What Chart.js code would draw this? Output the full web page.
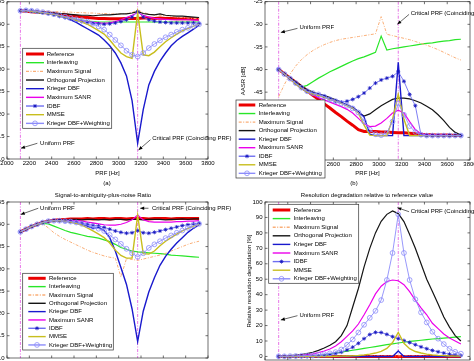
<!DOCTYPE html>
<html>
<head>
<meta charset="utf-8">
<script src="https://cdn.jsdelivr.net/npm/chart.js@4"></script>
<style>
  html, body { margin: 0; padding: 0; background: #fff; }
  body { width: 474px; height: 361px; position: relative; overflow: hidden; }
  canvas { position: absolute; }
</style>
</head>
<body>
<canvas id="panelA" width="275" height="210" style="left:-40px;top:-20px"></canvas>
<canvas id="panelB" width="262" height="210" style="left:222px;top:-20px"></canvas>
<canvas id="panelC" width="275" height="200" style="left:-40px;top:180px"></canvas>
<canvas id="panelD" width="262" height="200" style="left:222px;top:180px"></canvas>
<script>
// PRF grid (Hz) shared by all four panels
var prf = [2120, 2170, 2220, 2270, 2320, 2370, 2420, 2470, 2520, 2570, 2620, 2670, 2720, 2770, 2820, 2870,
  2920, 2970, 3020, 3070, 3120, 3170, 3220, 3270, 3320, 3370, 3420, 3470, 3520, 3570, 3620, 3670, 3720];
var prfTicks = [2000, 2200, 2400, 2600, 2800, 3000, 3200, 3400, 3600, 3800];
var prfMarks = [2120, 3170]; // uniform PRF, critical PRF
var seriesNames = ['Reference', 'Interleaving', 'Maximum Signal', 'Orthogonal Projection', 'Krieger DBF',
  'Maximum SANR', 'IDBF', 'MMSE', 'Krieger DBF+Weighting'];

// (a) top left, dB
var aTicks = [10, 15, 20, 25, 30, 35, 40, 45];
var aRef = [43.0, 42.9, 42.8, 42.7, 42.6, 42.5, 42.4, 42.2, 42.1, 41.9, 41.8, 41.6, 41.5, 41.4, 41.3, 41.3, 41.2, 41.2, 41.2, 41.3, 41.3, 41.3, 41.4, 41.4, 41.3, 41.4, 41.3, 41.3, 41.2, 41.2, 41.2, 41.2, 41.1];
var aInter = [43.0, 42.9, 42.8, 42.6, 42.5, 42.3, 42.1, 41.9, 41.6, 41.3, 41.1, 40.9, 40.7, 40.6, 40.5, 40.5, 40.5, 40.5, 40.5, 40.5, 40.5, 40.5, 40.5, 40.5, 40.5, 40.5, 40.5, 40.5, 40.5, 40.5, 40.5, 40.5, 40.5];
var aMaxSig = [43.0, 43.0, 43.0, 42.9, 42.9, 42.9, 42.8, 42.8, 42.7, 42.7, 42.6, 42.6, 42.5, 42.5, 42.4, 42.4, 42.3, 42.3, 42.3, 42.4, 42.6, 43.2, 42.6, 42.3, 42.1, 42.0, 41.9, 41.8, 41.6, 41.5, 41.4, 41.3, 41.2];
var aOrth = [43.0, 43.0, 42.9, 42.8, 42.7, 42.6, 42.5, 42.4, 42.3, 42.2, 42.1, 42.0, 42.0, 41.9, 42.0, 42.1, 42.1, 42.2, 42.3, 42.3, 42.5, 42.8, 42.4, 42.2, 42.1, 42.3, 42.0, 41.9, 41.8, 41.8, 41.7, 41.6, 41.5];
var aKrieger = [43.0, 43.0, 42.9, 42.8, 42.6, 42.4, 42.2, 41.9, 41.5, 41.0, 40.4, 39.7, 39.0, 38.3, 37.6, 36.5, 35.2, 33.6, 31.4, 28.5, 23.0, 13.5, 21.0, 26.5, 29.5, 31.8, 33.6, 35.2, 36.4, 37.3, 38.1, 38.9, 39.8];
var aSanr = [43.0, 43.0, 42.9, 42.8, 42.6, 42.4, 42.2, 41.9, 41.6, 41.3, 41.0, 40.8, 40.6, 40.4, 40.3, 40.2, 40.3, 40.6, 41.0, 41.5, 42.0, 42.6, 42.0, 41.6, 41.3, 41.2, 41.1, 41.0, 41.0, 41.0, 41.0, 40.9, 40.9];
var aIdbf = [43.0, 43.1, 43.0, 42.8, 42.6, 42.4, 42.1, 41.8, 41.5, 41.2, 40.9, 40.6, 40.4, 40.2, 40.1, 40.0, 40.1, 40.3, 40.6, 41.0, 41.6, 42.8, 41.6, 41.0, 40.7, 40.5, 40.4, 40.3, 40.3, 40.3, 40.3, 40.3, 40.2];
var aMmse = [43.0, 43.0, 42.9, 42.8, 42.6, 42.4, 42.2, 41.9, 41.6, 41.3, 40.9, 40.5, 40.0, 39.3, 38.6, 37.8, 36.5, 35.0, 33.6, 32.8, 32.4, 42.6, 33.2, 33.0, 33.8, 35.0, 36.1, 37.0, 37.8, 38.5, 39.1, 39.6, 40.0];
var aKw = [43.0, 43.1, 43.0, 42.9, 42.7, 42.5, 42.3, 42.0, 41.7, 41.4, 41.1, 40.9, 40.6, 40.1, 39.5, 38.8, 37.7, 36.5, 35.3, 34.1, 33.2, 32.8, 33.6, 34.7, 35.6, 36.4, 37.1, 37.7, 38.3, 38.8, 39.2, 39.6, 40.0];

// (b) top right, AASR dB
var bTicks = [-60, -55, -50, -45, -40, -35, -30, -25];
var bRef = [-40.0, -40.9, -41.9, -42.8, -43.8, -44.7, -45.7, -46.6, -47.6, -48.5, -49.5, -50.4, -51.4, -52.3, -53.3, -53.7, -53.7, -53.7, -53.8, -53.8, -53.9, -54.0, -54.0, -54.1, -54.2, -54.3, -54.4, -54.4, -54.5, -54.5, -54.5, -54.6, -54.6];
var bInter = [-40.0, -41.0, -42.0, -43.0, -43.9, -43.5, -42.7, -41.9, -41.2, -40.5, -39.9, -39.3, -38.7, -38.1, -37.6, -37.2, -36.7, -36.2, -32.6, -35.7, -35.4, -35.2, -35.0, -34.8, -34.6, -34.4, -34.2, -34.1, -33.9, -33.7, -33.6, -33.4, -33.3];
var bMaxSig = [-46.0, -43.3, -41.0, -39.2, -37.8, -36.7, -35.8, -35.1, -34.5, -34.0, -33.6, -33.3, -33.1, -32.9, -32.7, -32.5, -32.3, -32.1, -28.3, -32.2, -32.5, -32.8, -33.1, -33.4, -33.8, -34.2, -34.6, -35.1, -35.6, -36.2, -36.8, -37.4, -37.9];
var bOrth = [-40.0, -40.9, -41.8, -42.7, -43.6, -44.4, -45.0, -45.4, -45.7, -46.2, -46.7, -47.3, -47.9, -48.6, -49.5, -50.3, -49.8, -48.9, -48.0, -47.3, -46.6, -46.3, -46.3, -46.5, -46.9, -47.4, -48.1, -48.9, -50.0, -51.3, -52.8, -53.9, -54.5];
var bKrieger = [-40.0, -41.0, -42.1, -43.2, -44.2, -45.0, -45.3, -45.5, -45.9, -46.5, -46.8, -47.2, -47.8, -48.3, -49.3, -50.5, -54.3, -54.6, -54.6, -54.6, -54.6, -38.4, -54.6, -54.6, -54.6, -54.6, -54.6, -54.6, -54.6, -54.6, -54.6, -54.6, -54.6];
var bSanr = [-40.0, -41.0, -42.1, -43.1, -44.1, -45.0, -45.6, -46.2, -46.7, -47.2, -47.7, -48.2, -48.8, -49.6, -50.8, -52.0, -52.6, -52.5, -51.8, -50.8, -49.6, -49.0, -49.6, -51.5, -53.3, -54.2, -54.4, -54.5, -54.5, -54.5, -54.6, -54.6, -54.6];
var bIdbf = [-40.0, -41.0, -42.0, -43.0, -44.0, -44.8, -45.3, -45.6, -46.0, -46.5, -47.0, -47.2, -47.0, -46.6, -46.0, -45.2, -44.1, -43.0, -42.3, -41.9, -41.5, -40.5, -42.6, -45.5, -48.0, -54.5, -54.6, -54.6, -54.6, -54.6, -54.6, -54.6, -54.6];
var bMmse = [-40.0, -41.0, -42.1, -43.2, -44.2, -45.0, -45.4, -45.7, -46.1, -46.6, -47.0, -47.5, -48.0, -48.5, -49.6, -52.3, -54.5, -54.6, -54.6, -54.6, -51.0, -45.5, -51.0, -54.6, -54.6, -54.6, -54.6, -54.6, -54.6, -54.6, -54.6, -54.6, -54.6];
var bKw = [-40.0, -41.0, -42.0, -43.0, -44.0, -44.8, -45.2, -45.5, -46.0, -46.6, -47.0, -47.5, -48.0, -48.6, -49.5, -51.5, -53.3, -54.3, -54.5, -54.0, -51.5, -47.5, -50.0, -52.5, -53.8, -54.4, -54.6, -54.6, -54.6, -54.6, -54.6, -54.6, -54.6];

// (c) bottom left, signal-to-ambiguity-plus-noise ratio dB
var cTicks = [10, 15, 20, 25, 30, 35, 40, 45];
var cRef = [38.3, 38.9, 39.5, 40.0, 40.4, 40.7, 40.9, 41.0, 41.1, 41.2, 41.2, 41.2, 41.3, 41.2, 41.3, 41.3, 41.2, 41.3, 41.3, 41.2, 41.3, 41.3, 41.3, 41.2, 41.3, 41.3, 41.3, 41.2, 41.3, 41.3, 41.3, 41.3, 41.3];
var cInter = [38.3, 38.9, 39.5, 39.9, 40.2, 40.1, 39.6, 39.1, 38.6, 38.2, 37.9, 37.6, 37.3, 37.1, 36.9, 36.5, 36.1, 35.5, 34.8, 34.4, 34.0, 33.8, 33.7, 33.6, 33.5, 33.4, 33.3, 33.1, 33.0, 32.9, 32.8, 32.7, 32.6];
var cMaxSig = [38.3, 38.9, 39.5, 39.9, 40.1, 39.2, 38.1, 37.3, 36.6, 36.0, 35.4, 34.8, 34.2, 33.7, 33.3, 32.9, 32.6, 32.4, 28.2, 32.3, 32.1, 31.9, 32.2, 32.5, 32.8, 33.1, 33.5, 34.0, 34.5, 35.0, 35.5, 35.9, 36.2];
var cOrth = [38.3, 38.9, 39.5, 40.0, 40.4, 40.7, 40.9, 41.0, 41.0, 41.1, 41.1, 41.0, 41.1, 41.1, 41.0, 41.1, 41.0, 41.1, 41.1, 41.0, 41.1, 41.1, 41.0, 41.1, 41.1, 41.1, 41.0, 41.1, 41.1, 41.2, 41.1, 41.2, 41.2];
var cKrieger = [38.3, 38.9, 39.5, 40.0, 40.4, 40.7, 40.8, 40.8, 40.7, 40.5, 40.3, 40.0, 39.6, 39.1, 39.3, 38.6, 37.0, 34.0, 30.3, 26.5, 21.0, 13.7, 20.5, 24.8, 28.0, 30.8, 32.8, 34.4, 35.8, 37.0, 38.2, 39.1, 39.9];
var cSanr = [38.3, 38.9, 39.5, 40.0, 40.4, 40.7, 40.8, 40.9, 40.9, 40.9, 40.8, 40.7, 40.5, 40.3, 40.1, 39.9, 39.8, 39.8, 40.0, 40.4, 41.0, 42.1, 41.0, 40.6, 40.5, 40.5, 40.5, 40.5, 40.6, 40.6, 40.7, 40.7, 40.8];
var cIdbf = [38.3, 38.9, 39.5, 40.0, 40.4, 40.7, 40.8, 40.8, 40.7, 40.6, 40.4, 40.2, 40.0, 39.8, 39.6, 39.3, 38.9, 38.5, 38.2, 38.0, 38.1, 38.6, 38.1, 38.0, 38.2, 38.5, 38.8, 39.1, 39.4, 39.7, 39.9, 40.1, 40.2];
var cMmse = [38.3, 38.9, 39.5, 40.0, 40.4, 40.7, 40.8, 40.8, 40.7, 40.5, 40.2, 39.8, 39.2, 38.5, 37.8, 37.0, 35.8, 34.2, 33.0, 32.4, 32.4, 42.0, 33.4, 33.3, 34.0, 35.2, 36.2, 37.0, 37.8, 38.5, 39.1, 39.6, 40.0];
var cKw = [38.3, 38.9, 39.5, 40.0, 40.4, 40.7, 40.8, 40.8, 40.7, 40.6, 40.4, 40.1, 39.8, 39.4, 39.0, 38.5, 37.6, 36.6, 35.6, 34.5, 33.5, 32.7, 33.5, 34.7, 35.5, 36.2, 36.9, 37.5, 38.1, 38.6, 39.2, 39.7, 40.1];

// (d) bottom right, relative resolution degradation %
var dTicks = [0, 10, 20, 30, 40, 50, 60, 70, 80, 90, 100];
var dRef = [0, 0, 0, 0, 0, 0, 0, 0, 0, 0, 0, 0, 0, 0, 0, 0, 0, 0, 0, 0, 0, 0, 0, 0, 0, 0, 0, 0, 0, 0, 0, 0, 0];
var dInter = [0, 0, 0, 0, 0, 0.1, 0.2, 0.5, 1.0, 1.6, 2.2, 2.8, 3.4, 4.0, 4.6, 5.2, 5.8, 6.4, 7.0, 7.6, 8.2, 8.7, 9.2, 9.7, 10.1, 10.5, 10.9, 11.3, 11.6, 11.9, 12.2, 12.5, 12.8];
var dMaxSig = [0.2, 0.2, 0.2, 0.2, 0.2, 0.2, 0.2, 0.2, 0.2, 0.2, 0.2, 0.2, 0.2, 0.2, 0.2, 0.2, 0.3, 0.3, 0.3, 0.3, 0.3, 0.4, 0.3, 0.3, 0.3, 0.3, 0.2, 0.2, 0.2, 0.2, 0.2, 0.2, 0.2];
var dOrth = [0.2, 0.3, 0.5, 0.8, 1.2, 1.8, 2.7, 3.9, 5.5, 7.2, 9.5, 13.5, 20.0, 32.0, 44.0, 58.0, 70.0, 80.0, 87.5, 92.0, 94.2, 92.5, 87.3, 79.0, 70.0, 60.0, 50.0, 42.0, 34.0, 25.5, 19.0, 13.5, 10.0];
var dKrieger = [0, 0, 0, 0, 0, 0, 0, 0, 0, 0, 0, 0, 0, 0, 0, 0, 0, 0, 0, 0, 0, 3.5, 0, 0, 0, 0, 0, 0, 0, 0, 0, 0, 0];
var dSanr = [0.1, 0.2, 0.3, 0.5, 0.8, 1.2, 1.7, 2.5, 3.5, 4.8, 6.8, 9.5, 13.0, 16.5, 21.0, 27.0, 33.5, 40.5, 45.5, 48.5, 49.5, 49.0, 46.5, 42.0, 36.5, 31.5, 27.0, 21.5, 18.0, 14.5, 12.0, 10.0, 8.0];
var dIdbf = [0, 0, 0, 0, 0, 0, 0.1, 0.3, 0.6, 1.1, 1.8, 2.8, 4.2, 6.0, 8.5, 11.5, 14.2, 15.6, 15.5, 14.3, 12.8, 11.5, 10.3, 9.0, 7.6, 6.2, 5.0, 3.9, 3.0, 2.2, 1.5, 1.0, 0.6];
var dMmse = [0, 0, 0, 0, 0, 0, 0, 0, 0, 0, 0.1, 0.2, 0.3, 0.4, 0.6, 1.0, 1.5, 2.2, 3.3, 5.2, 9.0, 15.5, 8.5, 5.0, 3.2, 2.2, 1.5, 1.0, 0.7, 0.5, 0.3, 0.2, 0.2];
var dKw = [0.1, 0.1, 0.2, 0.3, 0.4, 0.6, 0.8, 1.1, 1.5, 2.0, 2.8, 4.5, 7.5, 11.0, 15.5, 20.5, 25.0, 29.5, 36.5, 49.5, 67.0, 92.0, 67.0, 49.5, 37.0, 28.5, 22.0, 16.0, 11.5, 8.0, 5.0, 3.0, 1.8];

// line styles in legend order
var styles = [
  { color: 'rgb(235,0,0)', width: 3 },
  { color: 'rgb(40,230,40)', width: 1.2 },
  { color: 'rgb(250,175,120)', width: 1, dash: [3, 1.5, 1, 1.5] },
  { color: 'rgb(20,20,20)', width: 1.2 },
  { color: 'rgb(25,25,205)', width: 1.4 },
  { color: 'rgb(235,0,235)', width: 1.2 },
  { color: 'rgb(110,110,240)', width: 0.9, point: 'star', radius: 2, pointColor: 'rgb(20,20,190)' },
  { color: 'rgb(200,190,30)', width: 1.4 },
  { color: 'rgb(140,140,250)', width: 0.9, point: 'circle', radius: 2.4 }
];

var FONT_FAMILY = "'Liberation Sans', Arial, sans-serif";
Chart.defaults.font.family = FONT_FAMILY;
Chart.defaults.font.size = 6;
Chart.defaults.color = '#000';

function line(ctx, x1, y1, x2, y2) {
  ctx.beginPath();
  ctx.moveTo(x1, y1);
  ctx.lineTo(x2, y2);
  ctx.stroke();
}

function drawMarker(ctx, style, x, y, r) {
  ctx.beginPath();
  if (style === 'circle') {
    ctx.arc(x, y, r, 0, Math.PI * 2);
  } else {
    for (var k = 0; k < 4; k++) {
      var a = k * Math.PI / 4;
      ctx.moveTo(x + Math.cos(a) * r, y + Math.sin(a) * r);
      ctx.lineTo(x - Math.cos(a) * r, y - Math.sin(a) * r);
    }
  }
  ctx.stroke();
}

// matlab look: box, inward ticks, PRF marker lines, arrows, legend, captions
var matlabPlugin = {
  id: 'matlab',
  beforeDatasetsDraw: function (chart) {
    var ctx = chart.ctx, a = chart.chartArea, x = chart.scales.x;
    ctx.save();
    ctx.strokeStyle = 'rgb(225,80,225)';
    ctx.lineWidth = 0.8;
    ctx.setLineDash([3, 1.5, 1, 1.5]);
    prfMarks.forEach(function (v) {
      var px = x.getPixelForValue(v);
      line(ctx, px, a.top, px, a.bottom);
    });
    ctx.restore();
  },
  afterDatasetsDraw: function (chart, args, o) {
    var ctx = chart.ctx, a = chart.chartArea, x = chart.scales.x, y = chart.scales.y;
    var ox = o.offset[0], oy = o.offset[1];
    ctx.save();
    ctx.strokeStyle = '#333';
    ctx.lineWidth = 0.7;
    ctx.strokeRect(a.left, a.top, a.right - a.left, a.bottom - a.top);
    x.ticks.forEach(function (t) {
      var px = x.getPixelForValue(t.value);
      line(ctx, px, a.bottom, px, a.bottom - 2.5);
      line(ctx, px, a.top, px, a.top + 2.5);
    });
    y.ticks.forEach(function (t) {
      var py = y.getPixelForValue(t.value);
      line(ctx, a.left, py, a.left + 2.5, py);
      line(ctx, a.right, py, a.right - 2.5, py);
    });

    ctx.font = '6px ' + FONT_FAMILY;
    ctx.textBaseline = 'middle';
    ctx.textAlign = 'left';
    o.notes.forEach(function (n) {
      var x1 = x.getPixelForValue(n.from[0]), y1 = y.getPixelForValue(n.from[1]);
      var x2 = x.getPixelForValue(n.to[0]), y2 = y.getPixelForValue(n.to[1]);
      ctx.strokeStyle = '#000';
      ctx.fillStyle = '#000';
      ctx.lineWidth = 0.6;
      line(ctx, x1, y1, x2, y2);
      var ang = Math.atan2(y2 - y1, x2 - x1);
      ctx.beginPath();
      ctx.moveTo(x2, y2);
      ctx.lineTo(x2 - 4 * Math.cos(ang) + 1.7 * Math.sin(ang), y2 - 4 * Math.sin(ang) - 1.7 * Math.cos(ang));
      ctx.lineTo(x2 - 4 * Math.cos(ang) - 1.7 * Math.sin(ang), y2 - 4 * Math.sin(ang) + 1.7 * Math.cos(ang));
      ctx.closePath();
      ctx.fill();
      ctx.fillText(n.text, x.getPixelForValue(n.x), y.getPixelForValue(n.y));
    });

    var lg = o.legend;
    ctx.fillStyle = '#fff';
    ctx.fillRect(lg.x - ox, lg.y - oy, lg.w, lg.h);
    ctx.strokeStyle = '#333';
    ctx.lineWidth = 0.7;
    ctx.strokeRect(lg.x - ox, lg.y - oy, lg.w, lg.h);
    chart.data.datasets.forEach(function (ds, i) {
      var yy = lg.row + i * lg.step - oy;
      ctx.strokeStyle = ds.borderColor;
      ctx.lineWidth = Math.max(ds.borderWidth, 1.4);
      ctx.setLineDash(ds.borderDash);
      line(ctx, lg.s0 - ox, yy, lg.s1 - ox, yy);
      ctx.setLineDash([]);
      if (ds.pointRadius > 0) {
        ctx.strokeStyle = ds.pointBorderColor;
        ctx.lineWidth = 0.8;
        drawMarker(ctx, ds.pointStyle, (lg.s0 + lg.s1) / 2 - ox, yy, ds.pointRadius);
      }
      ctx.fillStyle = '#000';
      ctx.fillText(ds.label, lg.t - ox, yy);
    });

    ctx.textAlign = 'center';
    o.captions.forEach(function (c) {
      ctx.fillText(c.text, c.x - ox, c.y - oy);
    });
    ctx.restore();
  }
};

function makePanel(id, vals, cfg) {
  var datasets = seriesNames.map(function (name, i) {
    var st = styles[i];
    return {
      label: name,
      data: prf.map(function (p, k) { return { x: p, y: vals[i][k] }; }),
      borderColor: st.color,
      borderWidth: st.width,
      borderDash: st.dash || [],
      pointStyle: st.point || 'circle',
      pointRadius: st.point ? st.radius : 0,
      pointBorderColor: st.pointColor || st.color,
      pointBackgroundColor: 'rgba(0,0,0,0)',
      pointBorderWidth: 0.8,
      tension: 0,
      fill: false,
      order: seriesNames.length - i
    };
  });

  return new Chart(document.getElementById(id), {
    type: 'line',
    data: { datasets: datasets },
    plugins: [matlabPlugin],
    options: {
      responsive: false,
      animation: false,
      devicePixelRatio: 1,
      layout: { padding: { left: 0, top: cfg.top, right: cfg.right, bottom: 0 } },
      plugins: {
        legend: { display: false },
        tooltip: { enabled: false },
        matlab: { offset: cfg.offset, legend: cfg.legend, notes: cfg.notes, captions: cfg.captions }
      },
      scales: {
        x: {
          type: 'linear', min: 2000, max: 3800,
          afterBuildTicks: function (s) { s.ticks = prfTicks.map(function (v) { return { value: v }; }); },
          afterFit: function (s) { s.height = cfg.xh; },
          grid: { display: false, drawTicks: false },
          border: { display: false },
          ticks: { padding: cfg.xPad, maxRotation: 0, autoSkip: false, callback: function (v) { return String(v); } },
          title: { display: !!cfg.xTitle, text: cfg.xTitle || '', font: { size: 6 }, padding: { top: 0, bottom: 13.4 } }
        },
        y: {
          type: 'linear', min: cfg.yMin, max: cfg.yMax,
          afterBuildTicks: function (s) { s.ticks = cfg.yTicks.map(function (v) { return { value: v }; }); },
          afterFit: function (s) { s.width = cfg.yw; },
          grid: { display: false, drawTicks: false },
          border: { display: false },
          ticks: { padding: 2.5, autoSkip: false, callback: function (v) { return String(v); } },
          title: { display: !!cfg.yTitle, text: cfg.yTitle || '', font: { size: 6 }, padding: { top: cfg.yTitlePad || 0, bottom: 0 } }
        }
      }
    }
  });
}

makePanel('panelA', [aRef, aInter, aMaxSig, aOrth, aKrieger, aSanr, aIdbf, aMmse, aKw], {
  offset: [-40, -20], top: 21.8, right: 27, yw: 47, xh: 31, xPad: 1,
  yMin: 10, yMax: 45, yTicks: aTicks, xTitle: 'PRF [Hz]',
  legend: { x: 22.7, y: 48.3, w: 89, h: 80, row: 54, step: 8.67, s0: 26, s1: 44, t: 46.7 },
  notes: [
    { text: 'Uniform PRF', x: 2296, y: 13.5, from: [2272, 13.5], to: [2125, 12.4] },
    { text: 'Critical PRF (Coinciding PRF)', x: 3300, y: 14.6, from: [3285, 14.3], to: [3178, 12.0] }
  ],
  captions: [{ text: '(a)', x: 107, y: 183 }]
});

makePanel('panelB', [bRef, bInter, bMaxSig, bOrth, bKrieger, bSanr, bIdbf, bMmse, bKw], {
  offset: [222, -20], top: 21.7, right: 14, yw: 43, xh: 30, xPad: 1,
  yMin: -60, yMax: -25, yTicks: bTicks, xTitle: 'PRF [Hz]', yTitle: 'AASR [dB]', yTitlePad: 17.4,
  legend: { x: 236, y: 100, w: 89, h: 78, row: 105, step: 8.54, s0: 238.7, s1: 255.3, t: 258.7 },
  notes: [
    { text: 'Uniform PRF', x: 2302, y: -30.7, from: [2285, -30.9], to: [2139, -31.8] },
    { text: 'Critical PRF (Coinciding PRF)', x: 3279, y: -27.6, from: [3265, -27.8], to: [3162, -30.0] }
  ],
  captions: [{ text: '(b)', x: 354, y: 183 }]
});

makePanel('panelC', [cRef, cInter, cMaxSig, cOrth, cKrieger, cSanr, cIdbf, cMmse, cKw], {
  offset: [-40, 180], top: 22, right: 27, yw: 47, xh: 22, xPad: 5,
  yMin: 10, yMax: 45, yTicks: cTicks,
  legend: { x: 22.7, y: 273.3, w: 90.6, h: 76.7, row: 278.3, step: 8.33, s0: 28.3, s1: 45.7, t: 49 },
  notes: [
    { text: 'Uniform PRF', x: 2296, y: 43.6, from: [2280, 43.6], to: [2123, 42.2] },
    { text: 'Critical PRF (Coinciding PRF)', x: 3298, y: 43.6, from: [3267, 43.6], to: [3193, 43.6] }
  ],
  captions: [{ text: 'Signal-to-ambiguity-plus-noise Ratio', x: 103, y: 195 }]
});

makePanel('panelD', [dRef, dInter, dMaxSig, dOrth, dKrieger, dSanr, dIdbf, dMmse, dKw], {
  offset: [222, 180], top: 22, right: 14, yw: 43, xh: 20, xPad: 5,
  yMin: -2.3, yMax: 100, yTicks: dTicks, yTitle: 'Relative resolution degradation [%]', yTitlePad: 24.1,
  legend: { x: 268.7, y: 204.3, w: 90, h: 79, row: 210, step: 8.6, s0: 272.7, s1: 290.3, t: 293.7 },
  notes: [
    { text: 'Uniform PRF', x: 2302, y: 26.9, from: [2285, 26.4], to: [2139, 23.6] },
    { text: 'Critical PRF (Coinciding PRF)', x: 3279, y: 93.7, from: [3265, 93.7], to: [3162, 96.3] }
  ],
  captions: [{ text: 'Resolution degradation relative to reference value', x: 367, y: 195 }]
});
</script>
</body>
</html>
